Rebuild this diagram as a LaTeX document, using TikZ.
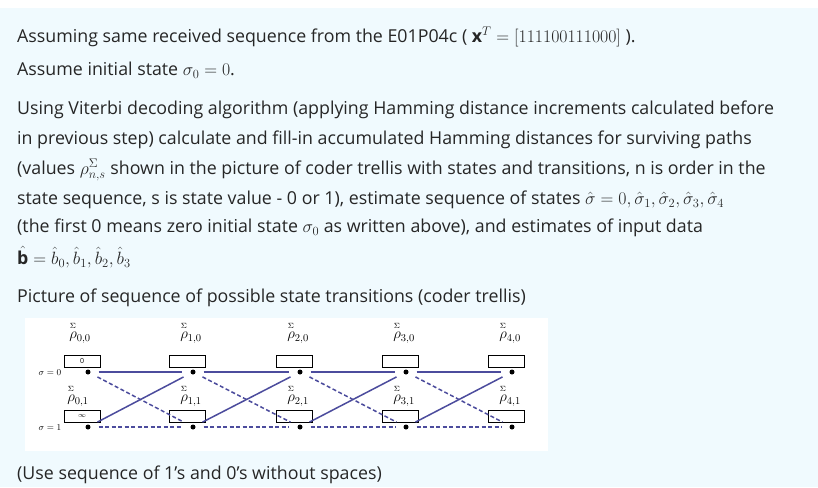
\RequirePackage{fix-cm}
\documentclass[tikz,border=0pt]{standalone}
\usepackage{amsmath}
\usepackage{fontspec}
\setmainfont{Open Sans}
\begin{document}
\begin{tikzpicture}[x=1pt,y=-1pt,
  txt/.style={anchor=west,inner sep=0pt,font=\fontsize{17.8}{20}\selectfont,text=black!85},
  sbox/.style={draw,minimum width=36pt,minimum height=12pt,inner sep=0pt,font=\scriptsize},
  dot/.style={circle,fill=black,inner sep=0pt,minimum size=5pt},
  lab/.style={inner sep=0pt,font=\fontsize{15}{18}\selectfont},
  tr/.style={draw=blue!45!black!70,line width=1.5pt,shorten >=8pt,shorten <=8pt},
  trd/.style={tr,dashed,dash pattern=on 4pt off 2.5pt}]
\fill[white] (0,0) rectangle (818,487);
\fill[cyan!6!white] (0,8) rectangle (818,487);
\fill[white] (25,318) rectangle (548,451);
\node[txt] (l1) at (17,37) {Assuming same received sequence from the E01P04c ( $\mathbf{x}^T=[111100111000]$ ).};
\node[txt] (l2) at (17,70) {Assume initial state $\sigma_0=0$.};
\node[txt] (l3) at (17,110) {Using Viterbi decoding algorithm (applying Hamming distance increments calculated before};
\node[txt] (l4) at (17,140) {in previous step) calculate and fill-in accumulated Hamming distances for surviving paths};
\node[txt] (l5) at (17,170) {(values $\rho^{\Sigma}_{n,s}$ shown in the picture of coder trellis with states and transitions, n is order in the};
\node[txt] (l6) at (17,200) {state sequence, s is state value - 0 or 1), estimate sequence of states $\hat{\sigma}=0,\hat{\sigma}_1,\hat{\sigma}_2,\hat{\sigma}_3,\hat{\sigma}_4$};
\node[txt] (l7) at (17,228) {(the first 0 means zero initial state $\sigma_0$ as written above), and estimates of input data};
\node[txt] (l8) at (17,257) {$\hat{\mathbf{b}}=\hat{b}_0,\hat{b}_1,\hat{b}_2,\hat{b}_3$};
\node[txt] (l9) at (17,298) {Picture of sequence of possible state transitions (coder trellis)};
\node[txt] (l10) at (17,475) {(Use sequence of 1's and 0's without spaces)};
\node[lab,font=\small] (s0) at (50,373) {$\sigma=0$};
\node[lab,font=\small] (s1) at (50,428) {$\sigma=1$};
\foreach \i/\x in {0/88,1/193,2/300,3/406,4/512}{
  \node[dot] (a\i) at (\x,372) {};
  \node[dot] (b\i) at (\x,427) {};
  \node[sbox] (ta\i) at (\x-6,361) {\ifnum\i=0 0\fi};
  \node[sbox] (tb\i) at (\x-6,416) {\ifnum\i=0 $\infty$\fi};
}
\node[lab] (r00) at (80,333) {$\overset{\scriptscriptstyle\Sigma}{\rho}_{0,0}$};
\node[lab] (r01) at (78,396) {$\overset{\scriptscriptstyle\Sigma}{\rho}_{0,1}$};
\foreach \i/\x in {1/193,2/300,3/406,4/512}{
  \node[lab] (r\i0) at (\x-2,333) {$\overset{\scriptscriptstyle\Sigma}{\rho}_{\i,0}$};
  \node[lab] (r\i1) at (\x-2,396) {$\overset{\scriptscriptstyle\Sigma}{\rho}_{\i,1}$};
}
\foreach \i/\j in {0/1,1/2,2/3,3/4}{
  \draw[tr] (a\i) -- (a\j);
  \draw[trd] (a\i) -- (b\j);
  \draw[tr] (b\i) -- (a\j);
  \draw[trd] (b\i) -- (b\j);
}
\end{tikzpicture}
\end{document}
